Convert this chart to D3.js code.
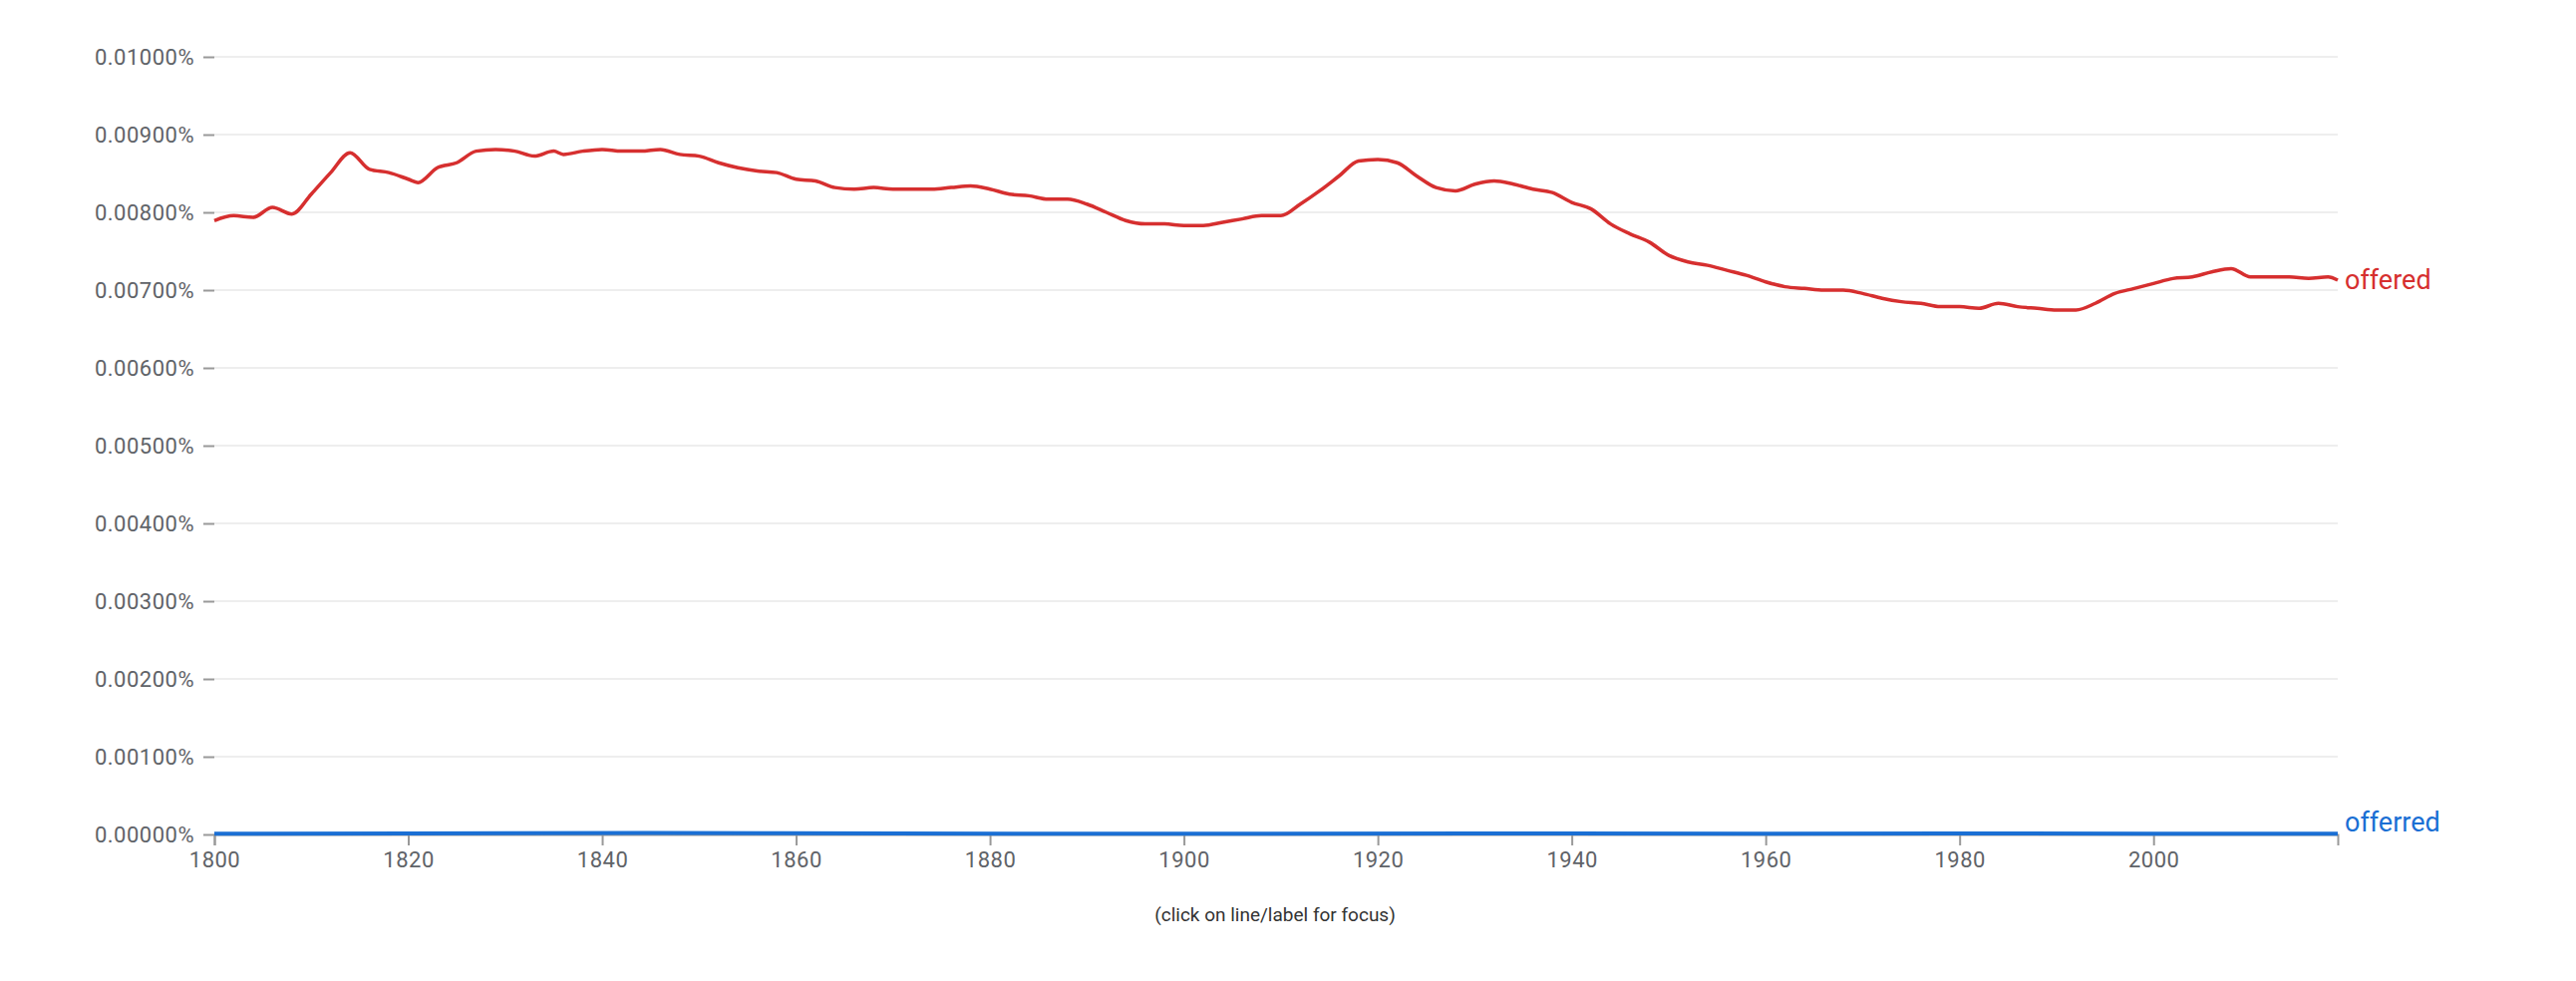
<!DOCTYPE html>
<html><head><meta charset="utf-8">
<script src="https://cdn.jsdelivr.net/npm/d3@7"></script>
<style>body{margin:0;background:#fff;font-family:Roboto,sans-serif}</style>
</head><body><svg id="c" width="2584" height="984"></svg>
<script>
const years = [1800,1802,1804,1806,1808,1810,1812,1814,1816,1818,1820,1821,1823,1825,1827,1829,1831,1833,1835,1836,1838,1840,1842,1844,1846,1848,1850,1852,1854,1856,1858,1860,1862,1864,1866,1868,1870,1872,1874,1876,1878,1880,1882,1884,1886,1888,1890,1892,1894,1896,1898,1900,1902,1904,1906,1908,1910,1912,1914,1916,1918,1920,1922,1924,1926,1928,1930,1932,1934,1936,1938,1940,1942,1944,1946,1948,1950,1952,1954,1956,1958,1960,1962,1964,1966,1968,1970,1972,1974,1976,1978,1980,1982,1984,1986,1988,1990,1992,1994,1996,1998,2000,2002,2004,2006,2008,2010,2012,2014,2016,2018,2019];
// values in thousandths of a percent
const offered = [7.894,7.957,7.936,8.064,7.979,8.234,8.511,8.766,8.553,8.511,8.426,8.383,8.574,8.638,8.787,8.809,8.787,8.723,8.787,8.745,8.787,8.809,8.787,8.787,8.809,8.745,8.723,8.638,8.574,8.532,8.511,8.426,8.404,8.319,8.298,8.319,8.298,8.298,8.298,8.319,8.340,8.298,8.234,8.213,8.170,8.170,8.106,8.000,7.894,7.851,7.851,7.830,7.830,7.872,7.915,7.957,7.957,8.106,8.277,8.468,8.660,8.681,8.638,8.468,8.319,8.277,8.362,8.404,8.362,8.298,8.255,8.128,8.043,7.851,7.723,7.617,7.447,7.362,7.319,7.255,7.191,7.106,7.043,7.021,7.000,7.000,6.957,6.894,6.851,6.830,6.787,6.787,6.766,6.830,6.787,6.766,6.745,6.745,6.830,6.957,7.021,7.085,7.149,7.170,7.234,7.277,7.170,7.170,7.170,7.150,7.170,7.128];
const offerredYears = [1800,1820,1845,1870,1900,1930,1960,1980,2000,2019];
const offerred = [0.010,0.012,0.018,0.012,0.010,0.012,0.010,0.012,0.010,0.010];
const yTicks = [0,0.001,0.002,0.003,0.004,0.005,0.006,0.007,0.008,0.009,0.010];
const xTicks = [1800,1820,1840,1860,1880,1900,1920,1940,1960,1980,2000];

const svg = d3.select("#c");
const x = d3.scaleLinear().domain([1800,2019]).range([215,2345]);
const y = d3.scaleLinear().domain([0,0.01]).range([837,57]);

svg.append("g").selectAll("line").data(yTicks.slice(1)).join("line")
  .attr("x1",215).attr("x2",2345).attr("y1",d=>y(d)).attr("y2",d=>y(d))
  .attr("stroke","#eeeeee").attr("stroke-width",2);

const ya = svg.append("g").attr("transform","translate(215,0)")
  .call(d3.axisLeft(y).tickValues(yTicks).tickSize(11).tickPadding(9).tickFormat(d=>d3.format(".5f")(d)+"%"));
ya.select(".domain").remove();
ya.selectAll("line").attr("stroke","#999").attr("stroke-width",2);
ya.selectAll("text").attr("fill","#5f6368").style("font-size","22px").style("font-family","Roboto").style("letter-spacing","0.5px");

const xa = svg.append("g").attr("transform","translate(0,837)")
  .call(d3.axisBottom(x).tickValues(xTicks).tickSize(11).tickPadding(6).tickFormat(d3.format("d")));
xa.select(".domain").attr("stroke","#999").attr("stroke-width",2);
xa.selectAll("line").attr("stroke","#999").attr("stroke-width",2);
xa.selectAll("text").attr("fill","#5f6368").style("font-size","22px").style("font-family","Roboto").style("letter-spacing","0.5px");

const line = d3.line().x(d=>x(d[0])).y(d=>y(d[1]/1000)).curve(d3.curveMonotoneX);
svg.append("path").datum(offerredYears.map((t,i)=>[t,offerred[i]]))
  .attr("d",line).attr("fill","none").attr("stroke","#1a6fd4").attr("stroke-width",4);
svg.append("path").datum(years.map((t,i)=>[t,offered[i]]))
  .attr("d",line).attr("fill","none").attr("stroke","#d62f2f").attr("stroke-width",3.5);

svg.append("text").attr("x",2352).attr("y",y(offered[offered.length-1]/1000)+9)
  .attr("fill","#d62f2f").style("font-size","27px").style("font-family","Roboto").text("offered");
svg.append("text").attr("x",2352).attr("y",y(offerred[offerred.length-1]/1000)-2)
  .attr("fill","#1a6fd4").style("font-size","27px").style("font-family","Roboto").text("offerred");

svg.append("text").attr("x",1279).attr("y",924).attr("text-anchor","middle")
  .attr("fill","#333").style("font-size","19px").style("font-family","Roboto").text("(click on line/label for focus)");
</script></body></html>
